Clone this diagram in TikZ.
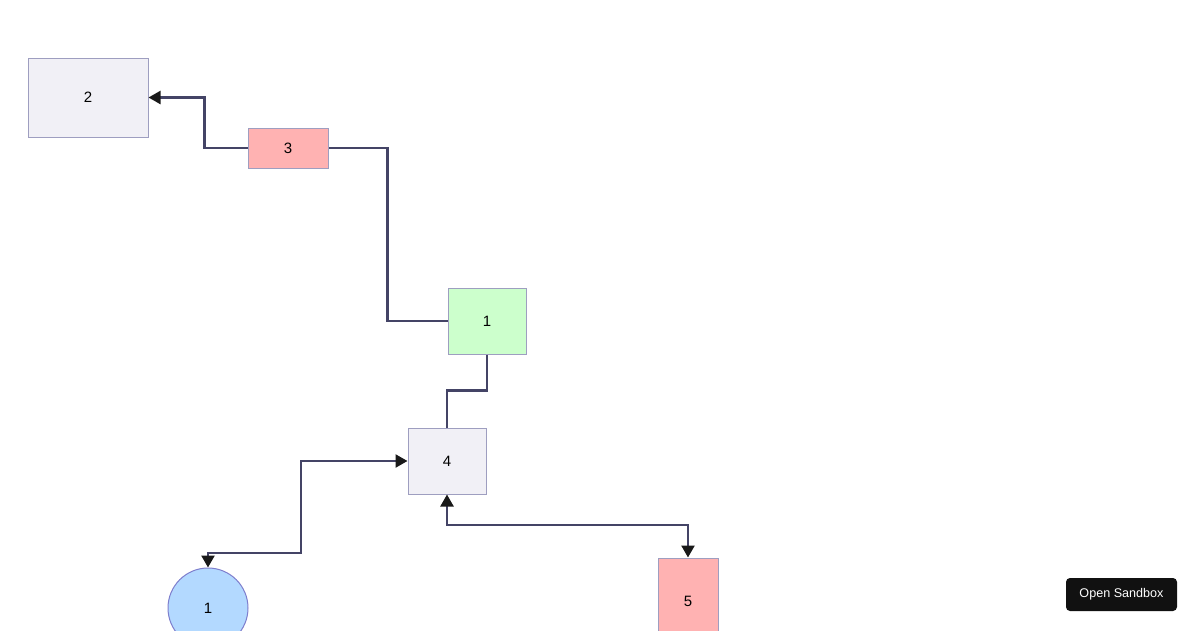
\documentclass[tikz,border=0pt]{standalone}
\usepackage{fontspec}
\setmainfont{Liberation Sans}
\usetikzlibrary{arrows.meta}
\definecolor{edgec}{HTML}{444466}
\definecolor{bordc}{HTML}{9E9EC0}
\definecolor{greyf}{HTML}{F1F0F6}
\definecolor{pinkf}{HTML}{FFB2B2}
\definecolor{greenf}{HTML}{CCFFCC}
\definecolor{bluef}{HTML}{B3D9FF}
\definecolor{btnf}{HTML}{111111}
\tikzset{
  box/.style={draw=bordc, line width=1pt, inner sep=0pt, font=\fontsize{15}{17}\selectfont},
  conn/.style={draw=edgec, line width=2.3pt},
  tip/.style={-{Triangle[length=12pt,width=13pt,color=black!90]}},
  tips/.style={{Triangle[length=12pt,width=13pt,color=black!90]}-{Triangle[length=12pt,width=13pt,color=black!90]}},
}
\begin{document}
\begin{tikzpicture}[x=1pt,y=-1pt]
\useasboundingbox (0,0) rectangle (1200,630);
\clip (0,0) rectangle (1200,630);
\fill[white] (0,0) rectangle (1200,630);
\node[box, fill=greyf, minimum width=120pt, minimum height=79pt] (n2) at (88,97.5) {2};
\node[box, fill=pinkf, minimum width=80pt, minimum height=40pt] (n3) at (288,148) {3};
\node[box, fill=greenf, minimum width=78pt, minimum height=66pt] (g1) at (487,321) {1};
\node[box, fill=greyf, minimum width=78pt, minimum height=66pt] (n4) at (447,461) {4};
\node[box, circle, fill=bluef, draw=bordc!80!blue, minimum size=80pt] (c1) at (208,608) {1};
\node[box, fill=pinkf, minimum width=60pt, minimum height=86pt] (n5) at (688,601) {5};
\node[fill=btnf, rounded corners=4pt, minimum width=111pt, minimum height=33pt, inner sep=0pt, text=white, font=\fontsize{12.6}{14}\selectfont] (btn) at (1121.5,594.5) {Open Sandbox};
\coordinate (j1) at (301,553);
\coordinate (j2) at (560,525);
\draw[conn, tip] (n3.west) -- ++(-43,0) |- (n2.east);
\draw[conn] (g1.west) -- ++(-60,0) |- (n3.east);
\draw[conn] (g1.south) -- ++(0,36) -| (n4.north);
\draw[conn, tips] (c1.north) |- (j1) |- (n4.west);
\draw[conn, tips] (n4.south) |- (j2) -| (n5.north);
\end{tikzpicture}
\end{document}
